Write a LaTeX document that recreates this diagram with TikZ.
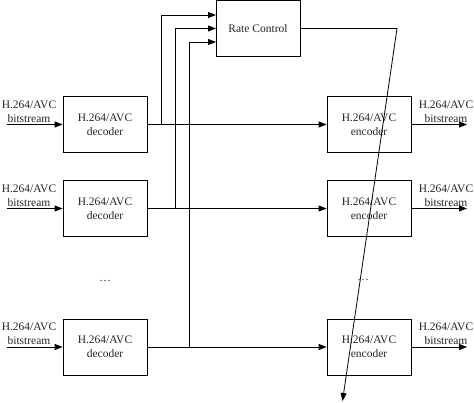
\documentclass[tikz,border=0pt]{standalone}
\usepackage{fontspec}
\setmainfont{Liberation Serif}
\usetikzlibrary{arrows.meta}
\begin{document}
\begin{tikzpicture}[x=1pt,y=-1pt,
  txt/.style={font=\fontsize{11.5}{14}\selectfont, text=black!85},
  box/.style={draw, line width=0.8pt, minimum width=84pt, minimum height=56pt, align=center, inner sep=0pt, txt},
  lbl/.style={align=center, inner sep=0pt, txt},
  conn/.style={line width=0.8pt, -{Triangle[length=8pt,width=6pt]}},
  ln/.style={line width=0.8pt}]
\useasboundingbox (0,0) rectangle (474,403);
% Rate control
\node[box] (rc) at (258,28.5) {Rate Control};
% decoders
\node[box] (d1) at (105,124.5) {H.264/AVC\\decoder};
\node[box] (d2) at (105,208.5) {H.264/AVC\\decoder};
\node[box] (d3) at (105,347) {H.264/AVC\\decoder};
% encoders
\node[box] (e1) at (369,124.5) {H.264/AVC\\encoder};
\node[box] (e2) at (369,208.5) {H.264/AVC\\encoder};
\node[box] (e3) at (369,347) {H.264/AVC\\encoder};
% input labels
\node[lbl] (il1) at (29,111.5) {H.264/AVC\\bitstream};
\node[lbl] (il2) at (29,195.5) {H.264/AVC\\bitstream};
\node[lbl] (il3) at (29,334) {H.264/AVC\\bitstream};
% output labels
\node[lbl] (ol1) at (446,111.5) {H.264/AVC\\bitstream};
\node[lbl] (ol2) at (446,195.5) {H.264/AVC\\bitstream};
\node[lbl] (ol3) at (446,334) {H.264/AVC\\bitstream};
% dots
\node[lbl] (dl) at (105,281) {\ldots};
\node[lbl] (dr) at (363,280) {\ldots};
% input / output coordinates
\coordinate (i1) at (7,124.5);
\coordinate (i2) at (7,208.5);
\coordinate (i3) at (7,347);
\coordinate (o1) at (467,124.5);
\coordinate (o2) at (467,208.5);
\coordinate (o3) at (467,347);
\draw[conn] (i1) -- (d1.west);
\draw[conn] (i2) -- (d2.west);
\draw[conn] (i3) -- (d3.west);
\draw[conn] (e1.east) -- (o1);
\draw[conn] (e2.east) -- (o2);
\draw[conn] (e3.east) -- (o3);
% decoder to encoder
\draw[conn] (d1.east) -- (e1.west);
\draw[conn] (d2.east) -- (e2.west);
\draw[conn] (d3.east) -- (e3.west);
% feedback to rate control
\coordinate (j1) at (161,124.5);
\coordinate (j2) at (175,208.5);
\coordinate (j3) at (189,347);
\coordinate (r1) at (216,15);
\coordinate (r2) at (216,28.5);
\coordinate (r3) at (216,42);
\draw[conn] (j1) |- (r1);
\draw[conn] (j2) |- (r2);
\draw[conn] (j3) |- (r3);
% rate control output
\coordinate (c1) at (397,28.5);
\coordinate (c2) at (342.5,401);
\draw[conn] (rc.east) -- (c1) -- (c2);
\end{tikzpicture}
\end{document}
